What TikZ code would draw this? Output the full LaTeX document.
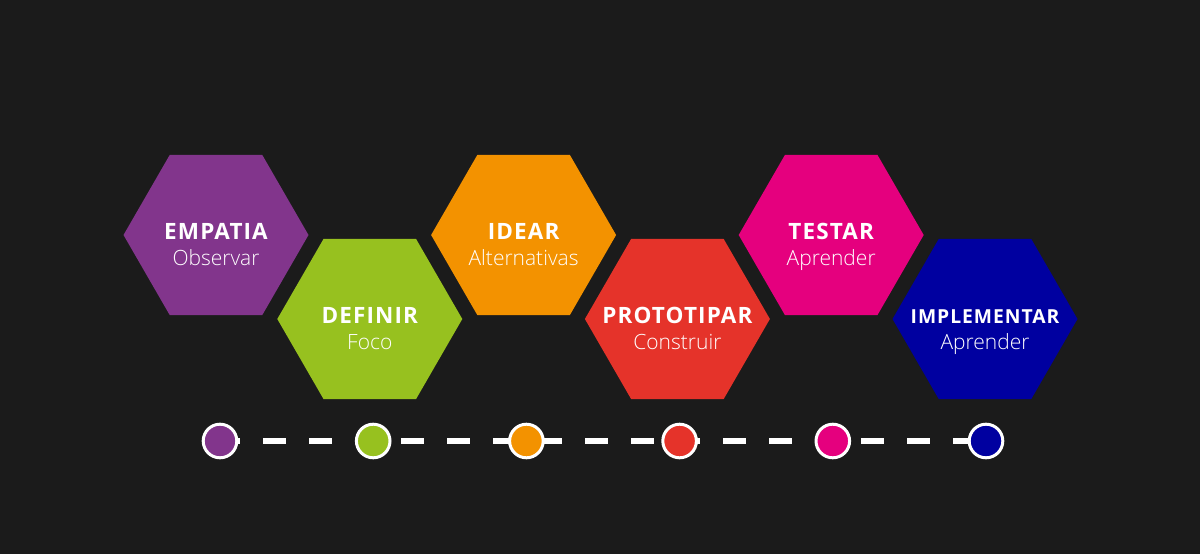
\documentclass[tikz,border=0pt]{standalone}
\usepackage{fontspec}
\setmainfont{Open Sans}
\newfontfamily\lightfont{Open Sans Light}
\newfontfamily\boldfont{Open Sans Bold}[LetterSpace=5]
\usetikzlibrary{shapes.geometric, positioning}

\definecolor{fundo}{HTML}{1B1B1B}
\definecolor{roxo}{HTML}{82358C}
\definecolor{verde}{HTML}{97C11F}
\definecolor{laranja}{HTML}{F39200}
\definecolor{vermelho}{HTML}{E5332A}
\definecolor{rosa}{HTML}{E5007E}
\definecolor{azul}{HTML}{0000A0}

\pgfdeclarelayer{atras}
\pgfsetlayers{atras,main}

\tikzset{
    hexa/.style={regular polygon, regular polygon sides=6,
        minimum size=185pt, inner sep=0pt, outer sep=0pt},
    titulo/.style={anchor=base, text=white, inner sep=0pt,
        font=\fontsize{22.5}{26}\boldfont},
    subtitulo/.style={anchor=base, text=white, inner sep=0pt,
        font=\fontsize{21}{26}\lightfont},
    marco/.style={circle, draw=white, line width=3pt, minimum size=33.6pt, inner sep=0pt},
    trilha/.style={white, line width=6.5pt, dash pattern=on 23pt off 23pt, dash phase=3pt},
}

\begin{document}
\begin{tikzpicture}[x=1pt, y=-1pt, node distance=84pt and 153.8pt, on grid]
        \node[hexa, fill=roxo]                             (empatia)     at (216,235) {};
        \node[hexa, fill=verde,    below right=of empatia] (definir)     {};
        \node[hexa, fill=laranja,  above right=of definir] (idear)       {};
        \node[hexa, fill=vermelho, below right=of idear]   (prototipar)  {};
        \node[hexa, fill=rosa,     above right=of prototipar] (testar)   {};
        \node[hexa, fill=azul,     below right=of testar]  (implementar) {};

        \node[titulo]    at ([yshift=-4pt]empatia.center)      {EMPATIA};
        \node[subtitulo] at ([yshift=-30pt]empatia.center)     {Observar};
        \node[titulo]    at ([yshift=-4pt]definir.center)      {DEFINIR};
        \node[subtitulo] at ([yshift=-30pt]definir.center)     {Foco};
        \node[titulo]    at ([yshift=-4pt]idear.center)        {IDEAR};
        \node[subtitulo] at ([yshift=-30pt]idear.center)       {Alternativas};
        \node[titulo]    at ([yshift=-4pt]prototipar.center)   {PROTOTIPAR};
        \node[subtitulo] at ([yshift=-30pt]prototipar.center)  {Construir};
        \node[titulo]    at ([yshift=-4pt]testar.center)       {TESTAR};
        \node[subtitulo] at ([yshift=-30pt]testar.center)      {Aprender};
        \node[titulo, font=\fontsize{19.3}{24}\boldfont]
                         at ([yshift=-4pt]implementar.center)  {IMPLEMENTAR};
        \node[subtitulo] at ([yshift=-30pt]implementar.center) {Aprender};

        % linha do tempo
        \node[marco, fill=roxo]                       (p1) at (220,441) {};
        \node[marco, fill=verde,    right=153.2pt of p1] (p2) {};
        \node[marco, fill=laranja,  right=153.2pt of p2] (p3) {};
        \node[marco, fill=vermelho, right=153.2pt of p3] (p4) {};
        \node[marco, fill=rosa,     right=153.2pt of p4] (p5) {};
        \node[marco, fill=azul,     right=153.2pt of p5] (p6) {};

        \begin{pgfonlayer}{atras}
            \fill[fundo] (0,0) rectangle (1200,554);
            \draw[trilha] (p1.center) -- (p6.center);
        \end{pgfonlayer}
\end{tikzpicture}
\end{document}
